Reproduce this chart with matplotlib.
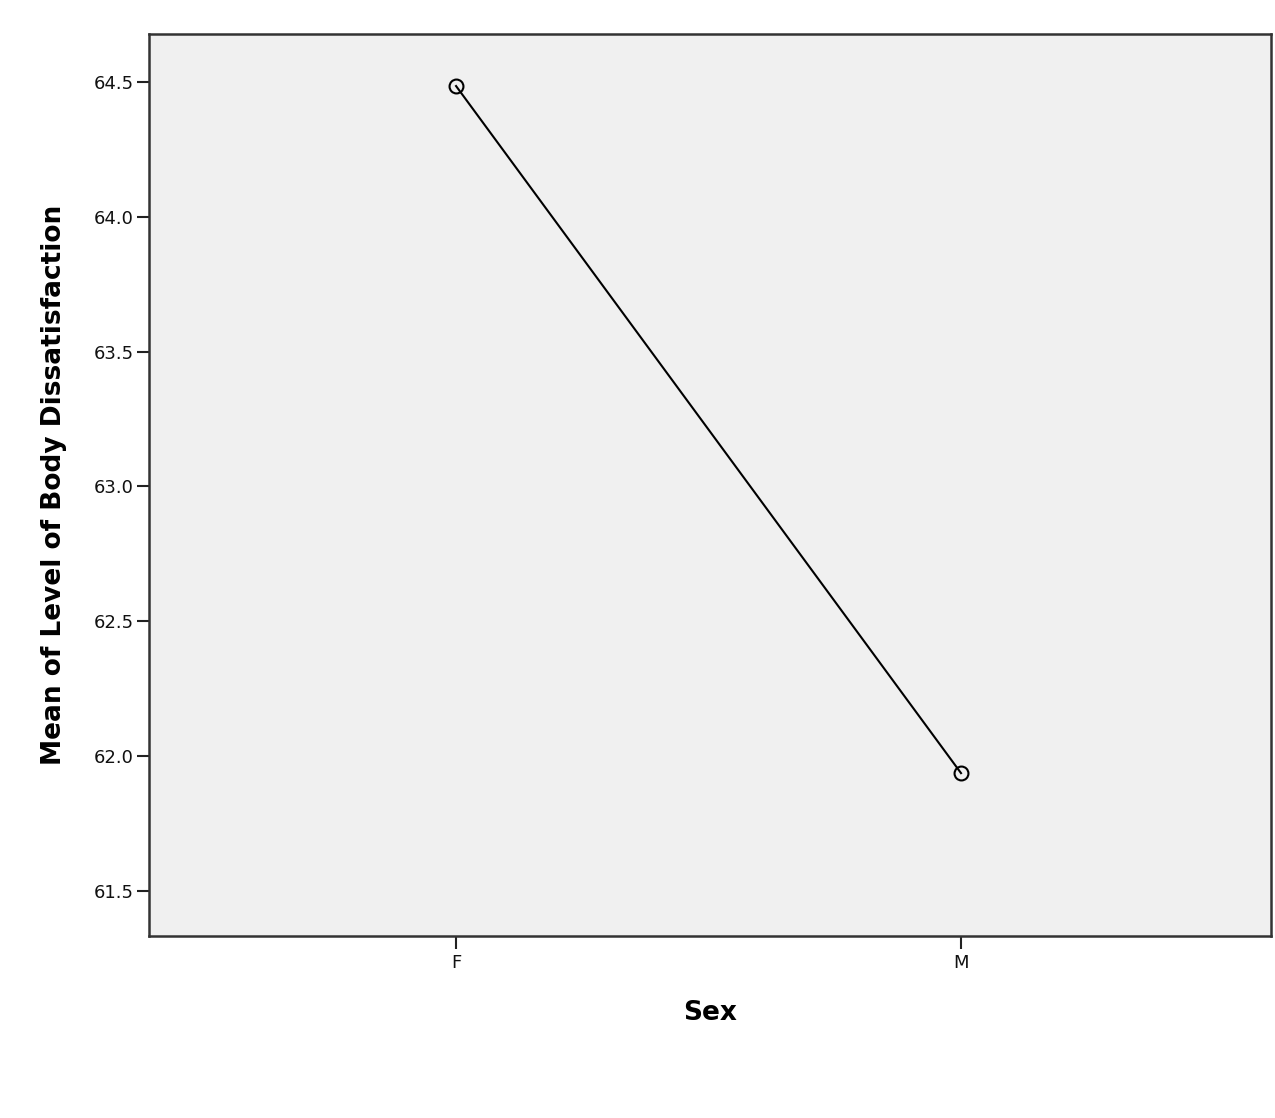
import matplotlib.pyplot as plt
import numpy as np

sexes = ['F', 'M']
means = [64.485, 61.937]
y_ticks = [61.5, 62.0, 62.5, 63.0, 63.5, 64.0, 64.5]

fig = plt.figure(figsize=(12.75, 11.18), dpi=100)
ax = fig.add_axes([0.1169, 0.1628, 0.88, 0.8068])
ax.set_facecolor('#f0f0f0')

x = np.arange(len(sexes))
ax.plot(x, means, color='black', linewidth=1.5, marker='o', markersize=10,
        markerfacecolor='none', markeredgecolor='black', markeredgewidth=1.5)

ax.set_xlim(-0.608, 1.614)
ax.set_ylim(61.333, 64.678)
ax.set_xticks(x)
ax.set_xticklabels(sexes)
ax.set_yticks(y_ticks)
ax.set_yticklabels([f'{v:.1f}' for v in y_ticks])
ax.tick_params(axis='both', direction='out', length=9, width=1.5,
               labelsize=13, color='#222222', labelcolor='#111111')
ax.tick_params(axis='x', pad=4)
ax.tick_params(axis='y', pad=2)
for s in ax.spines.values():
    s.set_linewidth(1.8)
    s.set_color('#333333')

ax.set_xlabel('Sex', fontsize=19, fontweight='bold', labelpad=20)
ax.set_ylabel('Mean of Level of Body Dissatisfaction', fontsize=19,
              fontweight='bold', labelpad=19)

fig.savefig('out.png', dpi=100)
